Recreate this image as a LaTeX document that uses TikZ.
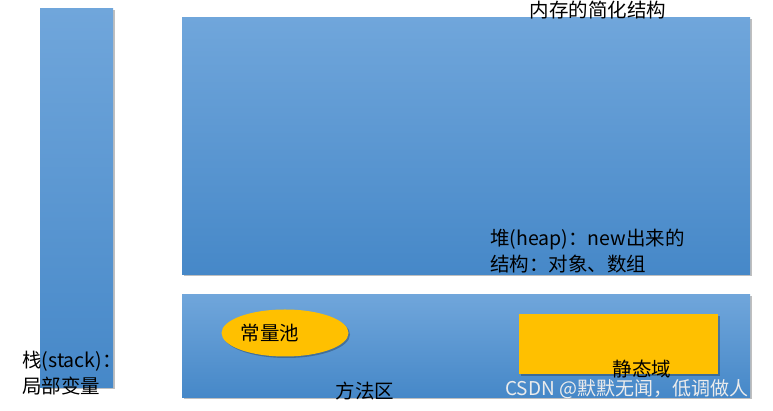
\documentclass[tikz,border=0pt]{standalone}
\usepackage{fontspec}
\setmainfont{Noto Sans CJK SC}
\usetikzlibrary{shadows,shapes.geometric}
\definecolor{btop}{HTML}{70A6DB}
\definecolor{bbot}{HTML}{4688C8}
\definecolor{gold}{HTML}{FFC000}
\tikzset{
  area/.style={top color=btop, bottom color=bbot, draw=none,
    drop shadow={shadow xshift=2pt, shadow yshift=-2pt, fill=black, opacity=0.25}},
  goldshape/.style={fill=gold, draw=none,
    drop shadow={shadow xshift=1.5pt, shadow yshift=-1.5pt, fill=black, opacity=0.25}},
  lbl/.style={font=\fontsize{19.5}{22}\selectfont, inner sep=0pt, text=black},
}
\begin{document}
\begin{tikzpicture}[x=1pt,y=1pt]
\useasboundingbox (0,0) rectangle (773,411);
% stack
\node[area, minimum width=73pt, minimum height=379pt, anchor=north west, inner sep=0pt] (stack) at (40,403) {};
% heap
\node[area, minimum width=568pt, minimum height=257pt, anchor=north west, inner sep=0pt] (heap) at (182,394) {};
% method area
\node[area, minimum width=568pt, minimum height=103pt, anchor=north west, inner sep=0pt] (method) at (182,117) {};
% constant pool
\node[goldshape, ellipse, minimum width=127pt, minimum height=47pt, inner sep=0pt] (pool) at (285,78) {};
\node[lbl] (poollbl) at (270,78) {常量池};
% static area
\node[goldshape, minimum width=199pt, minimum height=60pt, anchor=north west, inner sep=0pt] (static) at (519,97) {};
\node[lbl] (staticlbl) at (642,42) {静态域};
% labels
\node[lbl] (title) at (598,401) {内存的简化结构};
\node[lbl, anchor=west] (heap1) at (490,171) {堆(heap)：new出来的};
\node[lbl, anchor=west] (heap2) at (490,147) {结构：对象、数组};
\node[lbl, anchor=west] (stack1) at (22,50) {栈(stack)：};
\node[lbl, anchor=west] (stack2) at (22,25) {局部变量};
\node[lbl] (methodlbl) at (365,20) {方法区};
\node[lbl, anchor=west, text=white!85!gray, font=\fontsize{19}{22}\selectfont] (wm) at (505,22) {CSDN @默默无闻，低调做人};
\end{tikzpicture}
\end{document}
